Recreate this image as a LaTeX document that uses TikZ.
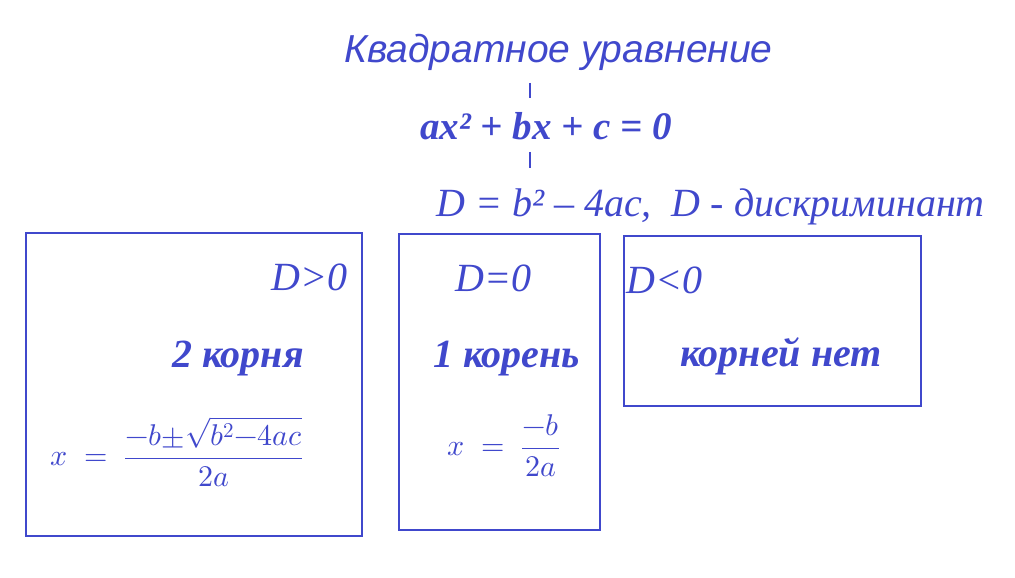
\documentclass[tikz,border=0pt]{standalone}
\usepackage{amsmath}
\usepackage{fontspec}
\usepackage{unicode-math}
\setmainfont{Liberation Serif}
\setmathfont{Latin Modern Math}
\newfontfamily\titlefont{Liberation Sans}
\usepackage{xcolor}
\newcommand{\picwidth}{1015pt}
\newcommand{\picheight}{578pt}
\definecolor{schemeblue}{HTML}{4048CC}
\definecolor{schemebg}{HTML}{FFFFFF}

\begin{document}
\begin{tikzpicture}
  \useasboundingbox (0,0) rectangle (\picwidth, \picheight);
  \fill[schemebg] (0,0) rectangle (\picwidth, \picheight);

  % === TOP: title, equation, discriminant ===
  \node[anchor=base west, inner sep=0pt, font=\titlefont\itshape\fontsize{39}{45}\selectfont\color{schemeblue}]
    (title) at (344pt, 515pt) {Квадратное уравнение};

  \node[anchor=base west, inner sep=0pt, font=\bfseries\itshape\fontsize{39}{45}\selectfont\color{schemeblue}]
    (equation) at (420pt, 438pt) {ax² + bx + c = 0};

  \node[anchor=base west, inner sep=0pt, font=\itshape\fontsize{40}{46}\selectfont\color{schemeblue}]
    (discr) at (436pt, 361pt) {D = b² – 4ac,~ D - дискриминант};

  % ticks
  \coordinate (tickAtop) at (530pt, 495pt);
  \coordinate (tickAbot) at (530pt, 480pt);
  \coordinate (tickBtop) at (530pt, 426pt);
  \coordinate (tickBbot) at (530pt, 410pt);
  \draw[schemeblue, line width=2.5pt] (tickAtop) -- (tickAbot);
  \draw[schemeblue, line width=2.5pt] (tickBtop) -- (tickBbot);

  % === BOX 1: D>0 ===
  \draw[schemeblue, line width=2pt] (26pt, 42pt) rectangle (362pt, 345pt);
  \node[anchor=base east, inner sep=0pt, font=\itshape\fontsize{40}{46}\selectfont\color{schemeblue}]
    (casepos) at (348pt, 287pt) {D>0};
  \node[anchor=base west, inner sep=0pt, font=\bfseries\itshape\fontsize{40}{46}\selectfont\color{schemeblue}]
    (tworoots) at (172pt, 210pt) {2 корня};
  \node[anchor=base west, inner sep=0pt, font=\fontsize{30}{36}\selectfont\color{schemeblue}]
    (formulapos) at (50pt, 112pt) {$x \;=\; \dfrac{-b{\pm}\sqrt{b^2{-}4ac}}{2a}$};

  % === BOX 2: D=0 ===
  \draw[schemeblue, line width=2pt] (399pt, 48pt) rectangle (600pt, 344pt);
  \node[anchor=base west, inner sep=0pt, font=\itshape\fontsize{40}{46}\selectfont\color{schemeblue}]
    (casezero) at (455pt, 286pt) {D=0};
  \node[anchor=base west, inner sep=0pt, font=\bfseries\itshape\fontsize{40}{46}\selectfont\color{schemeblue}]
    (oneroot) at (433pt, 210pt) {1 корень};
  \node[anchor=base west, inner sep=0pt, font=\fontsize{30}{36}\selectfont\color{schemeblue}]
    (formulazero) at (447pt, 122pt) {$x \;=\; \dfrac{-b}{2a}$};

  % === BOX 3: D<0 ===
  \draw[schemeblue, line width=2pt] (624pt, 172pt) rectangle (921pt, 342pt);
  \node[anchor=base west, inner sep=0pt, font=\itshape\fontsize{40}{46}\selectfont\color{schemeblue}]
    (caseneg) at (626pt, 284pt) {D<0};
  \node[anchor=base west, inner sep=0pt, font=\bfseries\itshape\fontsize{40}{46}\selectfont\color{schemeblue}]
    (noroots) at (680pt, 211pt) {корней нет};
\end{tikzpicture}
\end{document}
